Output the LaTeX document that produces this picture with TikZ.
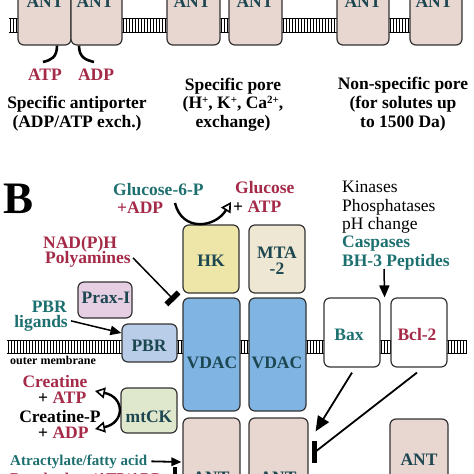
\documentclass[tikz,border=0pt]{standalone}
\usepackage{fontspec}
\setmainfont{Liberation Serif}
\usetikzlibrary{arrows.meta}
\definecolor{antc}{HTML}{E8D6D1}
\definecolor{hkc}{HTML}{EEE6A9}
\definecolor{mtac}{HTML}{EEE7D3}
\definecolor{vdacc}{HTML}{7FB4E3}
\definecolor{pbrc}{HTML}{B9CDE8}
\definecolor{praxc}{HTML}{E6CEE3}
\definecolor{mtckc}{HTML}{DFE7CD}
\definecolor{rd}{HTML}{A52A48}
\definecolor{tl}{HTML}{1E7070}
\definecolor{bxt}{HTML}{1C4650}
\definecolor{edge}{HTML}{333333}
\newcommand\myfs[1]{\fontsize{#1}{#1}\selectfont}
\newcommand\mysup[1]{\raisebox{0.28em}{\myfs{11}#1}}
\tikzset{
  box/.style={draw=edge, line width=1.2pt, rounded corners=6pt, inner sep=0pt},
  lbl/.style={font=\bfseries\myfs{17.5}, inner sep=0pt, anchor=base},
  lblw/.style={lbl, anchor=base west},
  lble/.style={lbl, anchor=base east},
  plainw/.style={font=\myfs{17.5}, inner sep=0pt, anchor=base west},
  intxt/.style={lbl, text=bxt},
  fillarr/.style={-{Triangle[length=#1pt,width=0.85*#1pt]}},
  openarr/.style={-{Triangle[open,length=10pt,width=11pt,line width=1.6pt]}},
  inhib/.style={line width=5pt}
}
\newcommand\memb[4]{%
  \fill[white] (#1,#2) rectangle (#3,#4);
  \begin{scope}
    \clip (#1,#2) rectangle (#3,#4);
    \foreach \i in {0,...,42} {\draw[line width=1.5pt] ({#1+1.5+3*\i},#2) -- ({#1+1.5+3*\i},#4);}
  \end{scope}
  \draw[line width=0.8pt] (#1,#2) -- (#3,#2) (#1,#4) -- (#3,#4);
}
\newcommand\bx[6]{\node[box,fill=#6,minimum width={(#3-#1)*1pt},minimum height={(#4-#2)*1pt}] (#5) at ({(#1+#3)/2},{(#2+#4)/2}) {};}
\begin{document}
\begin{tikzpicture}[x=1pt,y=-1pt]
\useasboundingbox (0,0) rectangle (474,474);
\clip (0,0) rectangle (474,474);
\fill[white] (0,0) rectangle (474,474);

% ---------- panel A ----------
\memb{9}{18}{18}{32}
\memb{122}{18}{167}{32}
\memb{220}{18}{229}{32}
\memb{282}{18}{337}{32}
\memb{389}{18}{410}{32}
\bx{18}{-30}{71}{45}{t1}{antc}
\bx{71}{-30}{122}{45}{t2}{antc}
\bx{167}{-30}{220}{45}{t3}{antc}
\bx{229}{-30}{282}{45}{t4}{antc}
\bx{337}{-30}{389}{45}{t5}{antc}
\bx{410}{-30}{462}{45}{t6}{antc}
\node[intxt] (t1t) at (45,7) {ANT};
\node[intxt] (t2t) at (95,7) {ANT};
\node[intxt] (t3t) at (192,7) {ANT};
\node[intxt] (t4t) at (255,7) {ANT};
\node[intxt] (t5t) at (363,7) {ANT};
\node[intxt] (t6t) at (434,7) {ANT};

\coordinate (atpc) at (43,62);
\coordinate (adpc) at (94,62);
\draw[line width=2.6pt] ([xshift=12.5pt]t1.south) .. controls +(0,12) and +(8,-2) .. (atpc);
\draw[line width=2.6pt] ([xshift=-17.5pt]t2.south) .. controls +(0,12) and +(-8,-2) .. (adpc);
\node[lbl,text=rd] (atp1) at (45,80) {ATP};
\node[lbl,text=rd] (adp1) at (96,80) {ADP};

\node[lbl] (sa1) at (77,108) {Specific antiporter};
\node[lbl] (sa2) at (77,127) {(ADP/ATP exch.)};
\node[lbl] (sp1) at (233,90) {Specific pore};
\node[lbl] (sp2) at (233,108) {(H\mysup{+}, K\mysup{+}, Ca\mysup{2+},};
\node[lbl] (sp3) at (233,127) {exchange)};
\node[lbl] (ns1) at (403,89) {Non-specific pore};
\node[lbl] (ns2) at (403,108) {(for solutes up};
\node[lbl] (ns3) at (403,127) {to 1500 Da)};

% ---------- panel B ----------
\node[lblw,font=\bfseries\myfs{45}] (B) at (3,213) {B};

\memb{7}{340}{122}{353}
\memb{177}{340}{183}{353}
\memb{240}{340}{249}{353}
\memb{306}{340}{324}{353}
\memb{380}{340}{391}{353}
\memb{447}{340}{467}{353}

\bx{183}{225}{239}{293}{hk}{hkc}
\bx{249}{225}{305}{293}{mta}{mtac}
\bx{183}{298}{240}{411}{v1}{vdacc}
\bx{249}{298}{306}{411}{v2}{vdacc}
\bx{122}{324}{177}{362}{pbr}{pbrc}
\bx{78}{282}{132}{318}{prax}{praxc}
\bx{324}{298}{380}{367}{bax}{white}
\bx{391}{298}{447}{367}{bcl}{white}
\bx{121}{388}{177}{433}{ck}{mtckc}
\bx{183}{418}{240}{500}{an1}{antc}
\bx{249}{418}{308}{500}{an2}{antc}
\bx{390}{419}{448}{500}{an3}{antc}

\node[intxt] (hkt) at (211,266) {HK};
\node[intxt] (mtat) at (277,258) {MTA};
\node[intxt] (mtat2) at (277,274) {-2};
\node[intxt] (v1t) at (212,368) {VDAC};
\node[intxt] (v2t) at (277,368) {VDAC};
\node[intxt] (pbrt) at (149,351) {PBR};
\node[intxt] (praxt) at (106,303) {Prax-I};
\node[lbl,text=tl] (baxt) at (349,340) {Bax};
\node[lbl,text=rd] (bclt) at (417,340) {Bcl-2};
\node[intxt] (ckt) at (149,422) {mtCK};
\node[intxt] (an1t) at (211,483) {ANT};
\node[intxt] (an2t) at (278,483) {ANT};
\node[intxt] (an3t) at (419,465) {ANT};

% labels
\node[lblw,text=tl] (g6p) at (113,195) {Glucose-6-P};
\node[lblw,text=rd] (adp2) at (117,213) {+ADP};
\node[lblw,text=rd] (glc) at (235,193) {Glucose};
\node[lblw,text=rd] (atp2) at (233,212) {\textcolor{black}{+} ATP};

\node[plainw] (kin) at (342,192) {Kinases};
\node[plainw] (pho) at (342,211) {Phosphatases};
\node[plainw] (phc) at (342,229) {pH change};
\node[lblw,text=tl] (cas) at (342,247) {Caspases};
\node[lblw,text=tl] (bh3) at (342,266) {BH-3 Peptides};

\node[lblw,text=rd] (nad) at (43,248) {NAD(P)H};
\node[lblw,text=rd] (poly) at (45,263) {Polyamines};
\node[lble,text=tl] (pbrl) at (67,312) {PBR};
\node[lble,text=tl] (lig) at (68,327) {ligands};
\node[lblw,font=\bfseries\myfs{12}] (om) at (10,364) {outer membrane};

\node[lbl,text=rd] (cre) at (55,387) {Creatine};
\node[lblw,text=rd] (atp3) at (38,403) {\textcolor{black}{+} ATP};
\node[lbl] (crp) at (60,422) {Creatine-P};
\node[lblw,text=rd] (adp3) at (38,438) {\textcolor{black}{+} ADP};

\node[lblw,text=tl,font=\bfseries\myfs{15}] (atr) at (10,465) {Atractylate/fatty acid};
\node[lblw,text=rd,font=\bfseries\myfs{15}] (bong) at (10,483) {Bongkrekate/ATP/ADP};

% connectors
\coordinate (g6s) at (175,203);
\coordinate (gle) at (231,202);
\draw[line width=2.4pt, openarr] (g6s) .. controls (182,232) and (215,228) .. (gle);

\draw[line width=1.5pt, -{Bar[width=17pt,line width=5.5pt]}] ([shift={(2,-1)}]poly.east) -- ([shift={(-8,3)}]v1.north west);

\draw[line width=1.5pt, fillarr=11] ([shift={(3,-2)}]lig.east) -- ([shift={(0,-10)}]pbr.west);

\coordinate (bhf) at (384,269);
\draw[line width=1.5pt, fillarr=12] (bhf) -- ([shift={(4,0)}]bax.north east);

\draw[line width=1.8pt, fillarr=15] ([shift={(0,5)}]bax.south) -- ([shift={(7,14)}]an2.north east);

\coordinate (blbar) at (315,452);
\coordinate (bt1) at (314,441);
\coordinate (bt2) at (314,463);
\draw[line width=1.8pt] ([shift={(-2,5)}]bcl.south) -- (blbar);
\draw[inhib] (bt1) -- (bt2);

\coordinate (ck1) at (95,391);
\coordinate (ck2) at (95,429);
\draw[line width=2.4pt, {Triangle[open,length=10pt,width=11pt,line width=1.6pt]}-{Triangle[open,length=10pt,width=11pt,line width=1.6pt]}] (ck1) .. controls (125,397) and (125,423) .. (ck2);

\draw[line width=1.8pt, fillarr=10] ([xshift=4pt]atr.east) -- ([shift={(-1,3)}]an1.west);

\coordinate (bk1) at (175,467);
\coordinate (bk2) at (175,486);
\draw[line width=4.5pt] (bk1) -- (bk2);
\end{tikzpicture}
\end{document}
